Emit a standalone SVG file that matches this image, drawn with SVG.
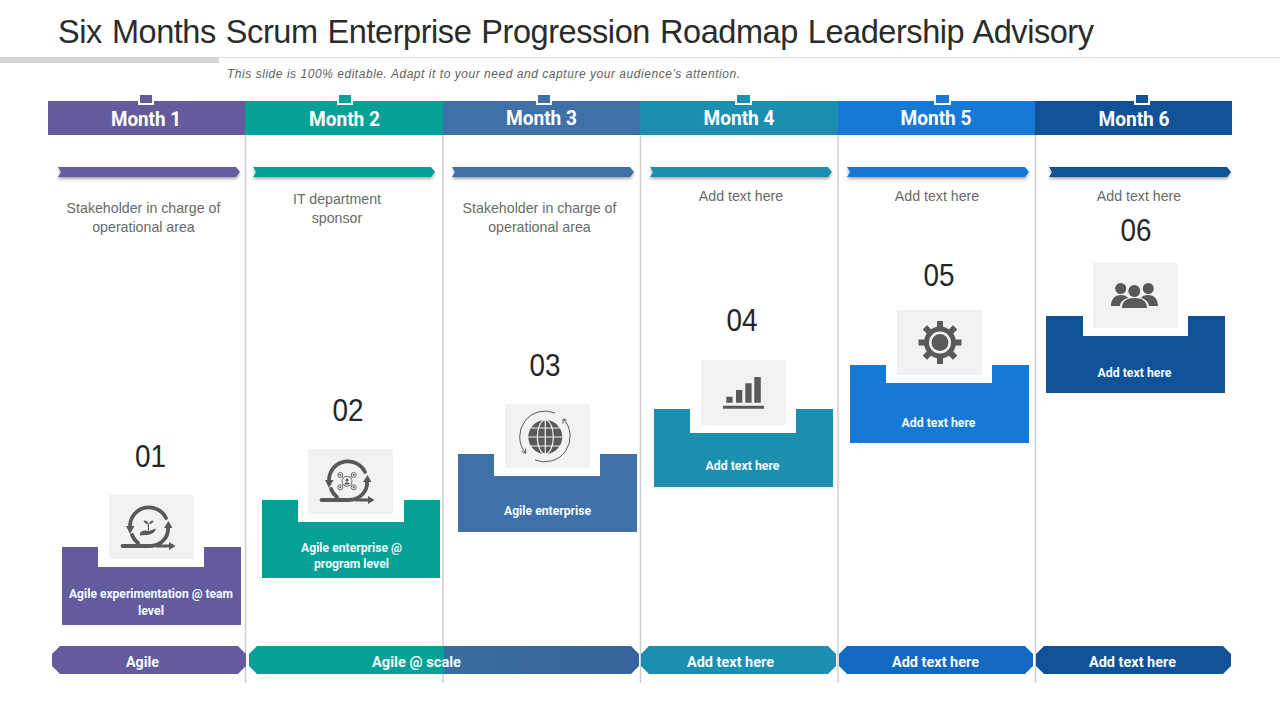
<svg xmlns="http://www.w3.org/2000/svg" width="1280" height="720" viewBox="0 0 1280 720">
<style>
text{text-anchor:middle}
.title{font:32.500px "Liberation Sans",Arial,sans-serif;fill:#2b2b2b;text-anchor:start;word-spacing:1.500px}
.sub{font:italic 12px "Liberation Sans",Arial,sans-serif;fill:#5f5f5f;text-anchor:start}
.month{font:700 20px Roboto,"Liberation Sans",sans-serif;fill:#fff}
.desc{font:14.200px "Liberation Sans",Arial,sans-serif;fill:#6a6a6a}
.num{font:32px "Liberation Sans",Arial,sans-serif;fill:#262626}
.card{font:700 12px Roboto,"Liberation Sans",sans-serif;fill:#f2fbff}
.pill{font:700 14.500px Roboto,"Liberation Sans",sans-serif;fill:#f4fbff}
.box{fill:#f2f2f2}
.ic{fill:#595959}
.icl{fill:none;stroke:#595959}
.tab{stroke:#fff;stroke-width:2}
.c1{fill:#635b9e}.c2{fill:#05a096}.c3{fill:#3f70a9}.c4{fill:#1c8fb0}.c5{fill:#1878d6}.c6{fill:#0f5298}
</style>
<defs>
<filter id="sh" x="-5%" y="-50%" width="110%" height="250%"><feDropShadow dx="0" dy="2" stdDeviation="1.500" flood-color="#000" flood-opacity=".35"/></filter>
<linearGradient id="scale" x1="249" x2="639" y1="0" y2="0" gradientUnits="userSpaceOnUse"><stop offset=".5" stop-color="#05a096"/><stop offset=".5" stop-color="#3a6c9f"/><stop offset="1" stop-color="#37649a"/></linearGradient>
<path id="rib" d="M0 0H178L182 5L178 10H0L3 5Z"/>
<g id="loop">
<path class="icl" stroke-width="3.800" stroke-linecap="round" d="M13.500 51H41C52 51 60 42 59 32M21 30A19 19 0 0 1 57 23M23 40A18 18 0 0 0 29 48"/>
<path class="ic" d="M17 31H25.500L21 39ZM55 33L59.500 26L63.500 33ZM47 49.500H60V47L66.500 51L60 55V52.500H47Z"/>
</g>
</defs>
<rect width="1280" height="720" fill="#fff"/>
<g id="header">
<rect x="0" y="57" width="1280" height="1" fill="#dcdcdc"/>
<rect x="0" y="57" width="219" height="6" fill="#d4d4d4"/>
<text class="title" x="58" y="42.500" textLength="1036">Six Months Scrum Enterprise Progression Roadmap Leadership Advisory</text>
<text class="sub" x="227" y="78" textLength="513">This slide is 100% editable. Adapt it to your need and capture your audience’s attention.</text>
</g>
<g id="connectors" stroke="#cfcfcf" stroke-width="1.500">
<path d="M245.500 135V683M443 135V683M640.500 135V683M838 135V683M1035.500 135V683"/>
</g>
<g id="month-1">
<rect class="c1" x="48" y="101" width="197" height="34"/>
<rect class="c1 tab" x="139" y="94" width="14" height="10"/>
<text class="month" x="146" y="126" textLength="70" lengthAdjust="spacingAndGlyphs">Month 1</text>
<use class="c1" href="#rib" x="58" y="167" filter="url(#sh)"/>
<text class="desc" x="143.500" y="213">Stakeholder in charge of</text>
<text class="desc" x="143.500" y="232">operational area</text>
<text class="num" x="150.500" y="467" textLength="31" lengthAdjust="spacingAndGlyphs">01</text>
<path class="c1" d="M62 547H98V567H204V547H241V625H62Z"/>
<rect class="box" x="109" y="495" width="85" height="64"/>
<use href="#loop" x="109" y="495"/>
<path class="ic" transform="translate(109 495)" d="M31 38C33 35 37 35 40 36L47 33.500C46 38 41 40.500 36 40L31 40.500ZM38.800 35.500V28.500H40V35.500ZM39 29C36 29 35 27 34.500 25.500C37 25.500 39 26 39 29ZM40 29C40.500 27 42 25.500 44.500 25.500C44 28 42.500 29 40 29Z"/>
<text class="card" x="151" y="598" textLength="164" lengthAdjust="spacingAndGlyphs">Agile experimentation @ team</text>
<text class="card" x="151" y="615" textLength="26" lengthAdjust="spacingAndGlyphs">level</text>
</g>
<g id="month-2">
<rect class="c2" x="245" y="101" width="198" height="34"/>
<rect class="c2 tab" x="338" y="94" width="14" height="10"/>
<text class="month" x="344.500" y="126" textLength="71" lengthAdjust="spacingAndGlyphs">Month 2</text>
<use class="c2" href="#rib" x="253" y="167" filter="url(#sh)"/>
<text class="desc" x="337" y="204">IT department</text>
<text class="desc" x="337" y="223">sponsor</text>
<text class="num" x="348" y="421" textLength="31" lengthAdjust="spacingAndGlyphs">02</text>
<path class="c2" d="M262 500H298V522H404V500H440V578H262Z"/>
<rect class="box" x="308" y="449" width="85" height="65"/>
<use href="#loop" x="308" y="449"/>
<g transform="translate(308 449)">
<path fill="none" stroke="#595959" stroke-width=".8" d="M32.300 26L45.700 38.300M45.700 26L32.300 38.300"/>
<g fill="#f2f2f2" stroke="#595959" stroke-width=".9"><circle cx="39" cy="32.300" r="5"/><circle cx="32.300" cy="26" r="2.500"/><circle cx="45.700" cy="26" r="2.500"/><circle cx="32.300" cy="38.300" r="2.500"/><circle cx="45.700" cy="38.300" r="2.500"/></g>
<g class="ic"><circle cx="39" cy="31" r="1.500"/><path d="M36.500 35.500C36.500 32.500 41.500 32.500 41.500 35.500Z"/><circle cx="32.300" cy="26" r="1"/><circle cx="45.700" cy="26" r="1"/><circle cx="32.300" cy="38.300" r="1"/><circle cx="45.700" cy="38.300" r="1"/></g>
</g>
<text class="card" x="351.500" y="552" textLength="101" lengthAdjust="spacingAndGlyphs">Agile enterprise @</text>
<text class="card" x="351.500" y="568" textLength="75" lengthAdjust="spacingAndGlyphs">program level</text>
</g>
<g id="month-3">
<rect class="c3" x="443" y="101" width="197" height="34"/>
<rect class="c3 tab" x="537" y="94" width="14" height="10"/>
<text class="month" x="541.500" y="125" textLength="71" lengthAdjust="spacingAndGlyphs">Month 3</text>
<use class="c3" href="#rib" x="452" y="167" filter="url(#sh)"/>
<text class="desc" x="539.500" y="213">Stakeholder in charge of</text>
<text class="desc" x="539.500" y="232">operational area</text>
<text class="num" x="545" y="376" textLength="31" lengthAdjust="spacingAndGlyphs">03</text>
<path class="c3" d="M458 454H494V476H600V454H637V532H458Z"/>
<rect class="box" x="505" y="404" width="85" height="64"/>
<circle class="ic" cx="545.300" cy="437" r="17"/>
<g fill="none" stroke="#f2f2f2" stroke-width="1.200"><ellipse cx="545.300" cy="437" rx="8" ry="17"/><path d="M545.300 420V454M528 437H563M530.500 428H560M530.500 446H560"/></g>
<path class="icl" stroke-width="1" d="M525.700 453A25.500 25.500 0 0 1 555 413M563.300 419A25.500 25.500 0 0 1 535 460M521.700 451.500L525.700 453.300L525.700 448.500M563.300 419L566.500 420M563.300 419L562.800 423.500"/>
<text class="card" x="547.500" y="515" textLength="87" lengthAdjust="spacingAndGlyphs">Agile enterprise</text>
</g>
<g id="month-4">
<rect class="c4" x="640" y="101" width="198" height="34"/>
<rect class="c4 tab" x="736" y="94" width="15" height="10"/>
<text class="month" x="739" y="125" textLength="71" lengthAdjust="spacingAndGlyphs">Month 4</text>
<use class="c4" href="#rib" x="650" y="167" filter="url(#sh)"/>
<text class="desc" x="741" y="201">Add text here</text>
<text class="num" x="742" y="331" textLength="31" lengthAdjust="spacingAndGlyphs">04</text>
<path class="c4" d="M654 409H690V433H796V409H833V487H654Z"/>
<rect class="box" x="701" y="360" width="85" height="65"/>
<path class="ic" d="M726.300 396.700h6.300v6h-6.300zM736 390h6.300v12.700H736zM745.300 383.300h6.300v19.400h-6.300zM754.300 377h6.500v25.700h-6.500zM723 405.700h41v3h-41z"/>
<text class="card" x="742.500" y="470" textLength="74" lengthAdjust="spacingAndGlyphs">Add text here</text>
</g>
<g id="month-5">
<rect class="c5" x="838" y="101" width="197" height="34"/>
<rect class="c5 tab" x="935" y="94" width="15" height="10"/>
<text class="month" x="936" y="125" textLength="71" lengthAdjust="spacingAndGlyphs">Month 5</text>
<use class="c5" href="#rib" x="847" y="167" filter="url(#sh)"/>
<text class="desc" x="937" y="201">Add text here</text>
<text class="num" x="939" y="286" textLength="31" lengthAdjust="spacingAndGlyphs">05</text>
<path class="c5" d="M850 365H886V383H992V365H1029V443H850Z"/>
<rect class="box" x="897" y="310" width="85" height="65"/>
<g transform="translate(940 342.500)">
<circle class="ic" r="16"/>
<path class="ic" d="M-3 -21.500H3V21.500H-3ZM-21.500 -3V3H21.500V-3ZM-17.300 -13L-13 -17.300L17.300 13L13 17.300ZM13 -17.300L17.300 -13L-13 17.300L-17.300 13Z"/>
<circle r="11" fill="#f2f2f2"/><circle class="ic" r="8.500"/>
</g>
<text class="card" x="938.500" y="427" textLength="74" lengthAdjust="spacingAndGlyphs">Add text here</text>
</g>
<g id="month-6">
<rect class="c6" x="1035" y="101" width="197" height="34"/>
<rect class="c6 tab" x="1135" y="94" width="14" height="10"/>
<text class="month" x="1134" y="126" textLength="71" lengthAdjust="spacingAndGlyphs">Month 6</text>
<use class="c6" href="#rib" x="1049" y="167" filter="url(#sh)"/>
<text class="desc" x="1139" y="201">Add text here</text>
<text class="num" x="1136" y="241" textLength="31" lengthAdjust="spacingAndGlyphs">06</text>
<path class="c6" d="M1046 316H1083V336H1188V316H1225V393H1046Z"/>
<rect class="box" x="1093" y="263" width="85" height="65"/>
<g class="ic">
<circle cx="1120.700" cy="288.500" r="5.500"/><circle cx="1148.300" cy="288.500" r="5.500"/><circle cx="1134.300" cy="291" r="6"/>
<path d="M1111 306C1111 298 1116 295 1121 295C1124 295 1127 296 1128 298C1124 299 1120 302 1120 306ZM1158 306C1158 298 1153 295 1148 295C1145 295 1142 296 1141 298C1145 299 1149 302 1149 306ZM1122 308C1122 301 1127 298 1134.500 298C1142 298 1147 301 1147 308Z"/>
</g>
<text class="card" x="1134.500" y="377" textLength="74" lengthAdjust="spacingAndGlyphs">Add text here</text>
</g>
<g id="phases">
<g id="phase-agile"><path class="c1" d="M60 646H238L246 654V666L238 674H60L52 666V654Z"/><text class="pill" x="142.500" y="667" textLength="33" lengthAdjust="spacingAndGlyphs">Agile</text></g>
<g id="phase-scale"><path fill="url(#scale)" d="M257 646H631L639 654V666L631 674H257L249 666V654Z"/><text class="pill" x="416.500" y="667" textLength="89" lengthAdjust="spacingAndGlyphs">Agile @ scale</text></g>
<g id="phase-4"><path class="c4" d="M649 646H828L836 654V666L828 674H649L641 666V654Z"/><text class="pill" x="730.500" y="667" textLength="87" lengthAdjust="spacingAndGlyphs">Add text here</text></g>
<g id="phase-5"><path fill="#1568c2" d="M847 646H1025L1033 654V666L1025 674H847L839 666V654Z"/><text class="pill" x="935.500" y="667" textLength="87" lengthAdjust="spacingAndGlyphs">Add text here</text></g>
<g id="phase-6"><path class="c6" d="M1044 646H1223L1231 654V666L1223 674H1044L1036 666V654Z"/><text class="pill" x="1132.500" y="667" textLength="87" lengthAdjust="spacingAndGlyphs">Add text here</text></g>
</g>
</svg>
